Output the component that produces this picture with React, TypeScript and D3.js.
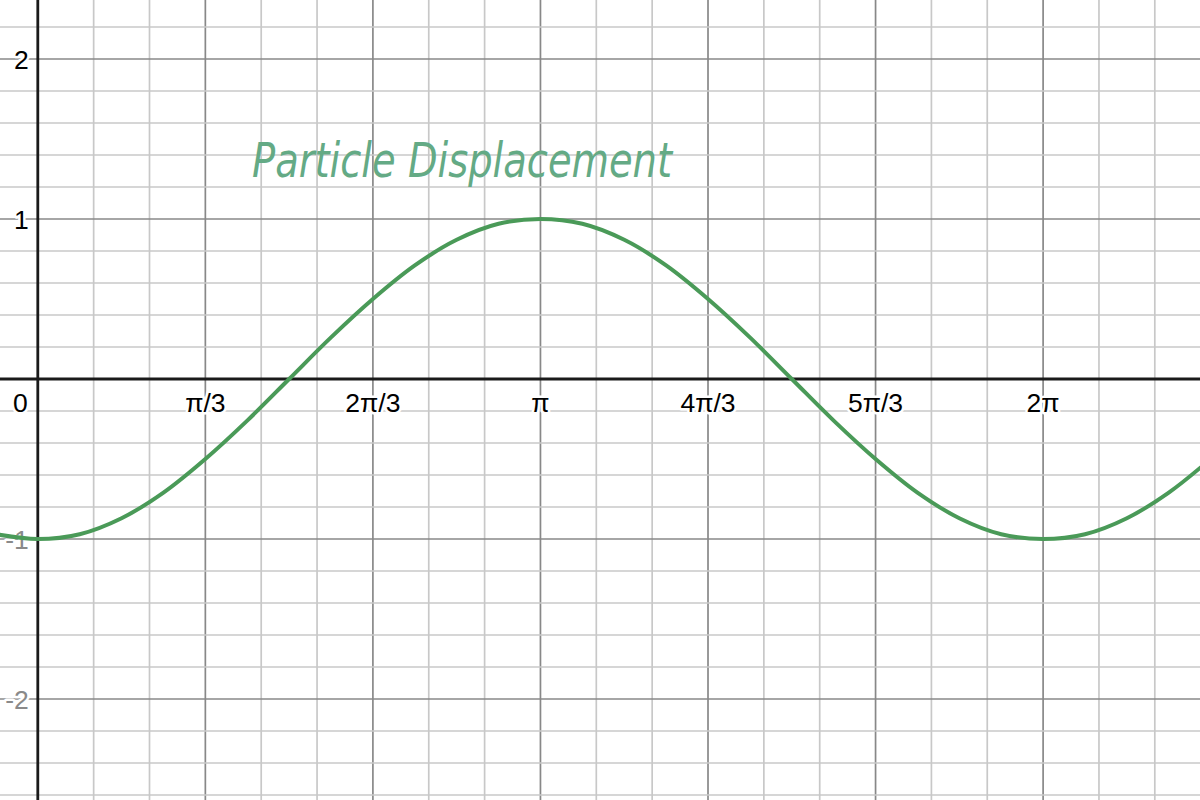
import { useEffect, useRef } from "react";
import * as d3 from "d3";

// curve samples, x in steps of π/12, y
const xSteps = [-1, 0, 1, 2, 3, 4, 5, 6, 7, 8, 9, 10, 11, 12, 13, 14, 15, 16, 17, 18, 19, 20, 21, 22, 23, 24, 25, 26, 27, 28];
const yValues = [-0.97, -1, -0.97, -0.87, -0.71, -0.5, -0.26, 0, 0.26, 0.5, 0.71, 0.87, 0.97, 1, 0.97, 0.87, 0.71, 0.5, 0.26, 0, -0.26, -0.5, -0.71, -0.87, -0.97, -1, -0.97, -0.87, -0.71, -0.5];

// x tick labels at multiples of π/3
const xTickMultiples = [1, 2, 3, 4, 5, 6];
const xTickLabels = ["π/3", "2π/3", "π", "4π/3", "5π/3", "2π"];
const yTickValues = [2, 1, -1, -2];
const yTickLabels = ["2", "1", "-1", "-2"];

const title = "Particle Displacement";

export default function App() {
    const width = 1200;
    const height = 800;
    const svgRef = useRef<SVGSVGElement | null>(null);

    useEffect(() => {
        document.body.style.margin = "0";
        const svg = d3.select(svgRef.current)
            .attr("viewBox", [0, 0, width, height].join(" "));
        svg.selectAll("*").remove();

        const pxPerUnit = 160;
        const x0 = 37.8;
        const y0 = 379;
        const xScale = d3.scaleLinear()
            .domain([-x0 / pxPerUnit, (width - x0) / pxPerUnit])
            .range([0, width]);
        const yScale = d3.scaleLinear()
            .domain([(y0 - height) / pxPerUnit, y0 / pxPerUnit])
            .range([height, 0]);

        svg.append("rect").attr("width", width).attr("height", height).attr("fill", "white");

        const [xmin, xmax] = xScale.domain();
        const [ymin, ymax] = yScale.domain();
        const step = Math.PI / 9;

        // vertical grid
        const g = svg.append("g");
        for (let k = Math.ceil(xmin / step); k * step <= xmax; k++) {
            if (k === 0) continue;
            const major = k % 3 === 0;
            g.append("line")
                .attr("x1", xScale(k * step)).attr("x2", xScale(k * step))
                .attr("y1", 0).attr("y2", height)
                .attr("stroke", major ? "#888" : "#c8c8c8")
                .attr("stroke-width", 1.7);
        }
        // horizontal grid
        for (let k = Math.ceil(ymin / 0.2); k * 0.2 <= ymax; k++) {
            if (k === 0) continue;
            const major = k % 5 === 0;
            g.append("line")
                .attr("x1", 0).attr("x2", width)
                .attr("y1", yScale(k * 0.2)).attr("y2", yScale(k * 0.2))
                .attr("stroke", major ? "#888" : "#c8c8c8")
                .attr("stroke-width", 1.7);
        }

        // axes
        svg.append("line")
            .attr("x1", 0).attr("x2", width)
            .attr("y1", yScale(0)).attr("y2", yScale(0))
            .attr("stroke", "#1a1a1a").attr("stroke-width", 2.8);
        svg.append("line")
            .attr("x1", xScale(0)).attr("x2", xScale(0))
            .attr("y1", 0).attr("y2", height)
            .attr("stroke", "#1a1a1a").attr("stroke-width", 2.8);

        const font = "'Liberation Sans', Arial, sans-serif";
        const labels = svg.append("g")
            .style("font-family", font)
            .style("font-size", "26.5px")
            .attr("paint-order", "stroke")
            .attr("stroke", "white")
            .attr("stroke-width", 5)
            .attr("stroke-linejoin", "round");

        xTickMultiples.forEach((m, i) => {
            labels.append("text")
                .attr("x", xScale(m * Math.PI / 3))
                .attr("y", yScale(0) + 33)
                .attr("text-anchor", "middle")
                .attr("fill", "#000")
                .text(xTickLabels[i]);
        });
        labels.append("text")
            .attr("x", xScale(0) - 10)
            .attr("y", yScale(0) + 33)
            .attr("text-anchor", "end")
            .attr("fill", "#000")
            .text("0");
        yTickValues.forEach((v, i) => {
            labels.append("text")
                .attr("x", xScale(0) - 9)
                .attr("y", yScale(v) + 9.5)
                .attr("text-anchor", "end")
                .attr("fill", v < 0 ? "#8a8a8a" : "#000")
                .text(yTickLabels[i]);
        });

        // curve
        const pts: [number, number][] = xSteps.map((s, i) => [s * Math.PI / 12, yValues[i]]);
        const line = d3.line<[number, number]>()
            .x(d => xScale(d[0]))
            .y(d => yScale(d[1]))
            .curve(d3.curveCatmullRom.alpha(0.5));
        svg.append("path")
            .datum(pts)
            .attr("fill", "none")
            .attr("stroke", "#4a9a58")
            .attr("stroke-width", 4)
            .attr("stroke-linecap", "round")
            .attr("d", line);

        // handwritten note
        svg.append("text")
            .attr("x", 252)
            .attr("y", 177)
            .attr("textLength", 420)
            .attr("lengthAdjust", "spacingAndGlyphs")
            .style("font-family", "'DejaVu Sans', sans-serif")
            .style("font-weight", 200)
            .style("font-style", "italic")
            .style("font-size", "48px")
            .attr("fill", "#64aa85")
            .text(title);
    }, []);

    return (
        <svg ref={svgRef} width={width} height={height}
            style={{ position: "absolute", left: 0, top: 0, display: "block" }} />
    );
}
